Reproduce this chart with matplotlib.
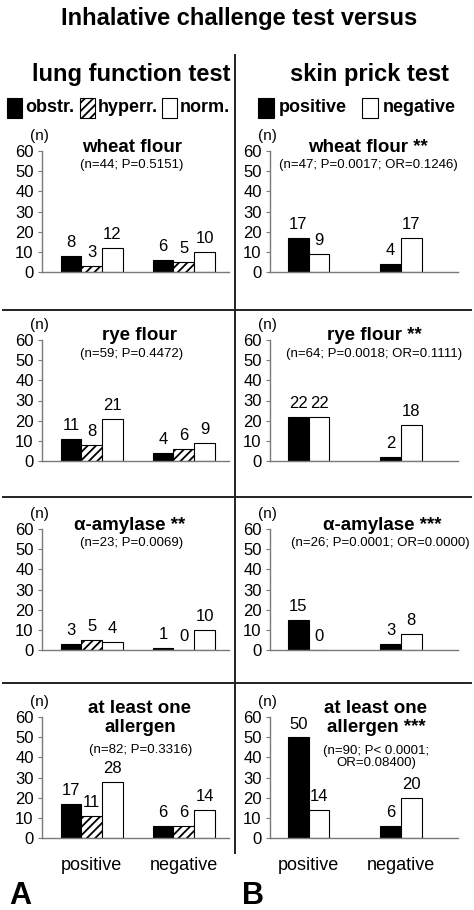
import numpy as np
import matplotlib
matplotlib.use("Agg")
import matplotlib.pyplot as plt
from matplotlib.patches import Rectangle

plt.rcParams['font.family'] = ['Liberation Sans', 'DejaVu Sans']
plt.rcParams['hatch.linewidth'] = 1.3
plt.rcParams['hatch.color'] = 'black'

groups = ['positive', 'negative']
lung_series = ['obstr.', 'hyperr.', 'norm.']
skin_series = ['positive', 'negative']

allergens = ['wheat flour', 'rye flour', 'α-amylase', 'at least one\nallergen']
lung_stars = ['', '', ' **', '']
skin_stars = [' **', ' **', ' ***', ' ***']
lung_stats = ['(n=44; P=0.5151)', '(n=59; P=0.4472)',
              '(n=23; P=0.0069)', '(n=82; P=0.3316)']
skin_stats = ['(n=47; P=0.0017; OR=0.1246)', '(n=64; P=0.0018; OR=0.1111)',
              '(n=26; P=0.0001; OR=0.0000)', '(n=90; P< 0.0001;\nOR=0.08400)']

# one row per allergen, values for challenge positive / negative
lung_obstr = [[8, 6], [11, 4], [3, 1], [17, 6]]
lung_hyperr = [[3, 5], [8, 6], [5, 0], [11, 6]]
lung_norm = [[12, 10], [21, 9], [4, 10], [28, 14]]
skin_pos = [[17, 4], [22, 2], [15, 3], [50, 6]]
skin_neg = [[9, 17], [22, 18], [0, 8], [14, 20]]

W, H = 474, 910
fig = plt.figure(figsize=(W / 100, H / 100), dpi=100)

# overlay in pixel coordinates for frame lines, headings and legend
ov = fig.add_axes([0, 0, 1, 1])
ov.set_xlim(0, W)
ov.set_ylim(H, 0)
ov.axis('off')

ov.text(239, 18, 'Inhalative challenge test versus', ha='center', va='center',
        fontsize=17, fontweight='bold')
ov.text(131, 74, 'lung function test', ha='center', va='center',
        fontsize=17, fontweight='bold')
ov.text(370, 74, 'skin prick test', ha='center', va='center',
        fontsize=17, fontweight='bold')

for yy in [310, 497, 683]:
    ov.plot([3, 471], [yy, yy], color='#222222', lw=1.4)
ov.plot([235, 235], [55, 853], color='#222222', lw=1.4)

# legends
leg_left = [(7, dict(facecolor='black')),
            (80, dict(facecolor='white', hatch='////')),
            (162, dict(facecolor='white'))]
for (x0, kw), name in zip(leg_left, lung_series):
    ov.add_patch(Rectangle((x0, 98), 15, 20, edgecolor='black', lw=0.8, **kw))
    ov.text(x0 + 18, 108, name, ha='left', va='center', fontsize=13,
            fontweight='bold')
leg_right = [(258, dict(facecolor='black')), (362, dict(facecolor='white'))]
for (x0, kw), name in zip(leg_right, skin_series):
    ov.add_patch(Rectangle((x0, 98), 16, 20, edgecolor='black', lw=0.8, **kw))
    ov.text(x0 + 21, 108, name, ha='left', va='center', fontsize=13,
            fontweight='bold')

ov.text(9, 896, 'A', ha='left', va='center', fontsize=22, fontweight='bold')
ov.text(242, 896, 'B', ha='left', va='center', fontsize=22, fontweight='bold')

tops = [151, 340, 529, 717]
ax_h = 121
left_x, left_w = 42, 187
right_x, right_w = 270, 188
lt_x = [132, 140, 130, 140]
rt_x = [368, 374, 382, 376]
ls_x = [132, 132, 132, 141]
rs_x = [368, 374, 380, 376]

w = 0.225
gx = np.arange(len(groups))


def style_axes(ax, xlim):
    ax.set_xlim(*xlim)
    ax.set_ylim(0, 60)
    ax.set_yticks(np.arange(0, 61, 10))
    ax.patch.set_alpha(0)
    for s in ['top', 'right']:
        ax.spines[s].set_visible(False)
    for s in ['left', 'bottom']:
        ax.spines[s].set_color('#7a7a7a')
        ax.spines[s].set_linewidth(1.0)
    ax.tick_params(axis='y', direction='out', length=3, width=0.8,
                   color='#7a7a7a', labelsize=12, pad=3)
    ax.tick_params(axis='x', length=0, labelsize=13, pad=14)


def label_bars(ax, bars):
    for b in bars:
        h = b.get_height()
        ax.annotate(f'{h:g}', (b.get_x() + b.get_width() / 2, h),
                    xytext=(0, 4), textcoords='offset points',
                    ha='center', va='bottom', fontsize=12, clip_on=False)


for i in range(4):
    top = tops[i]
    rect_y = 1 - (top + ax_h) / H
    # lung function test
    ax = fig.add_axes([left_x / W, rect_y, left_w / W, ax_h / H])
    style_axes(ax, (-0.54, 1.49))
    b1 = ax.bar(gx - w, lung_obstr[i], w, color='black', edgecolor='black', lw=0.8)
    b2 = ax.bar(gx, lung_hyperr[i], w, color='white', edgecolor='black', lw=0.8,
                hatch='////')
    b3 = ax.bar(gx + w, lung_norm[i], w, color='white', edgecolor='black', lw=0.8)
    for bars in (b1, b2, b3):
        label_bars(ax, bars)
    ax.set_xticks(gx)
    ax.set_xticklabels(groups if i == 3 else [])

    # skin prick test
    axr = fig.add_axes([right_x / W, rect_y, right_w / W, ax_h / H])
    style_axes(axr, (-0.42, 1.62))
    r1 = axr.bar(gx - w / 2, skin_pos[i], w, color='black', edgecolor='black', lw=0.8)
    r2 = axr.bar(gx + w / 2, skin_neg[i], w, color='white', edgecolor='black', lw=0.8)
    for bars in (r1, r2):
        label_bars(axr, bars)
    axr.set_xticks(gx)
    axr.set_xticklabels(groups if i == 3 else [])

    # (n) unit marks
    ov.text(left_x - 3, top - 15, '(n)', ha='center', va='center', fontsize=11)
    ov.text(right_x - 3, top - 15, '(n)', ha='center', va='center', fontsize=11)

    # panel titles
    two = '\n' in allergens[i]
    ty = top + 1 if two else top - 4
    ov.text(lt_x[i], ty, allergens[i] + lung_stars[i], ha='center', va='center',
            fontsize=13.5, fontweight='bold', linespacing=1.2)
    ov.text(rt_x[i], ty, allergens[i] + skin_stars[i], ha='center', va='center',
            fontsize=13.5, fontweight='bold', linespacing=1.2)
    ov.text(ls_x[i], top + (33 if two else 14), lung_stats[i], ha='center',
            va='center', fontsize=9.5)
    ov.text(rs_x[i], top + (40 if two else 14), skin_stats[i], ha='center',
            va='center', fontsize=9.5, linespacing=1.1)

fig.savefig('out.png', dpi=100)
